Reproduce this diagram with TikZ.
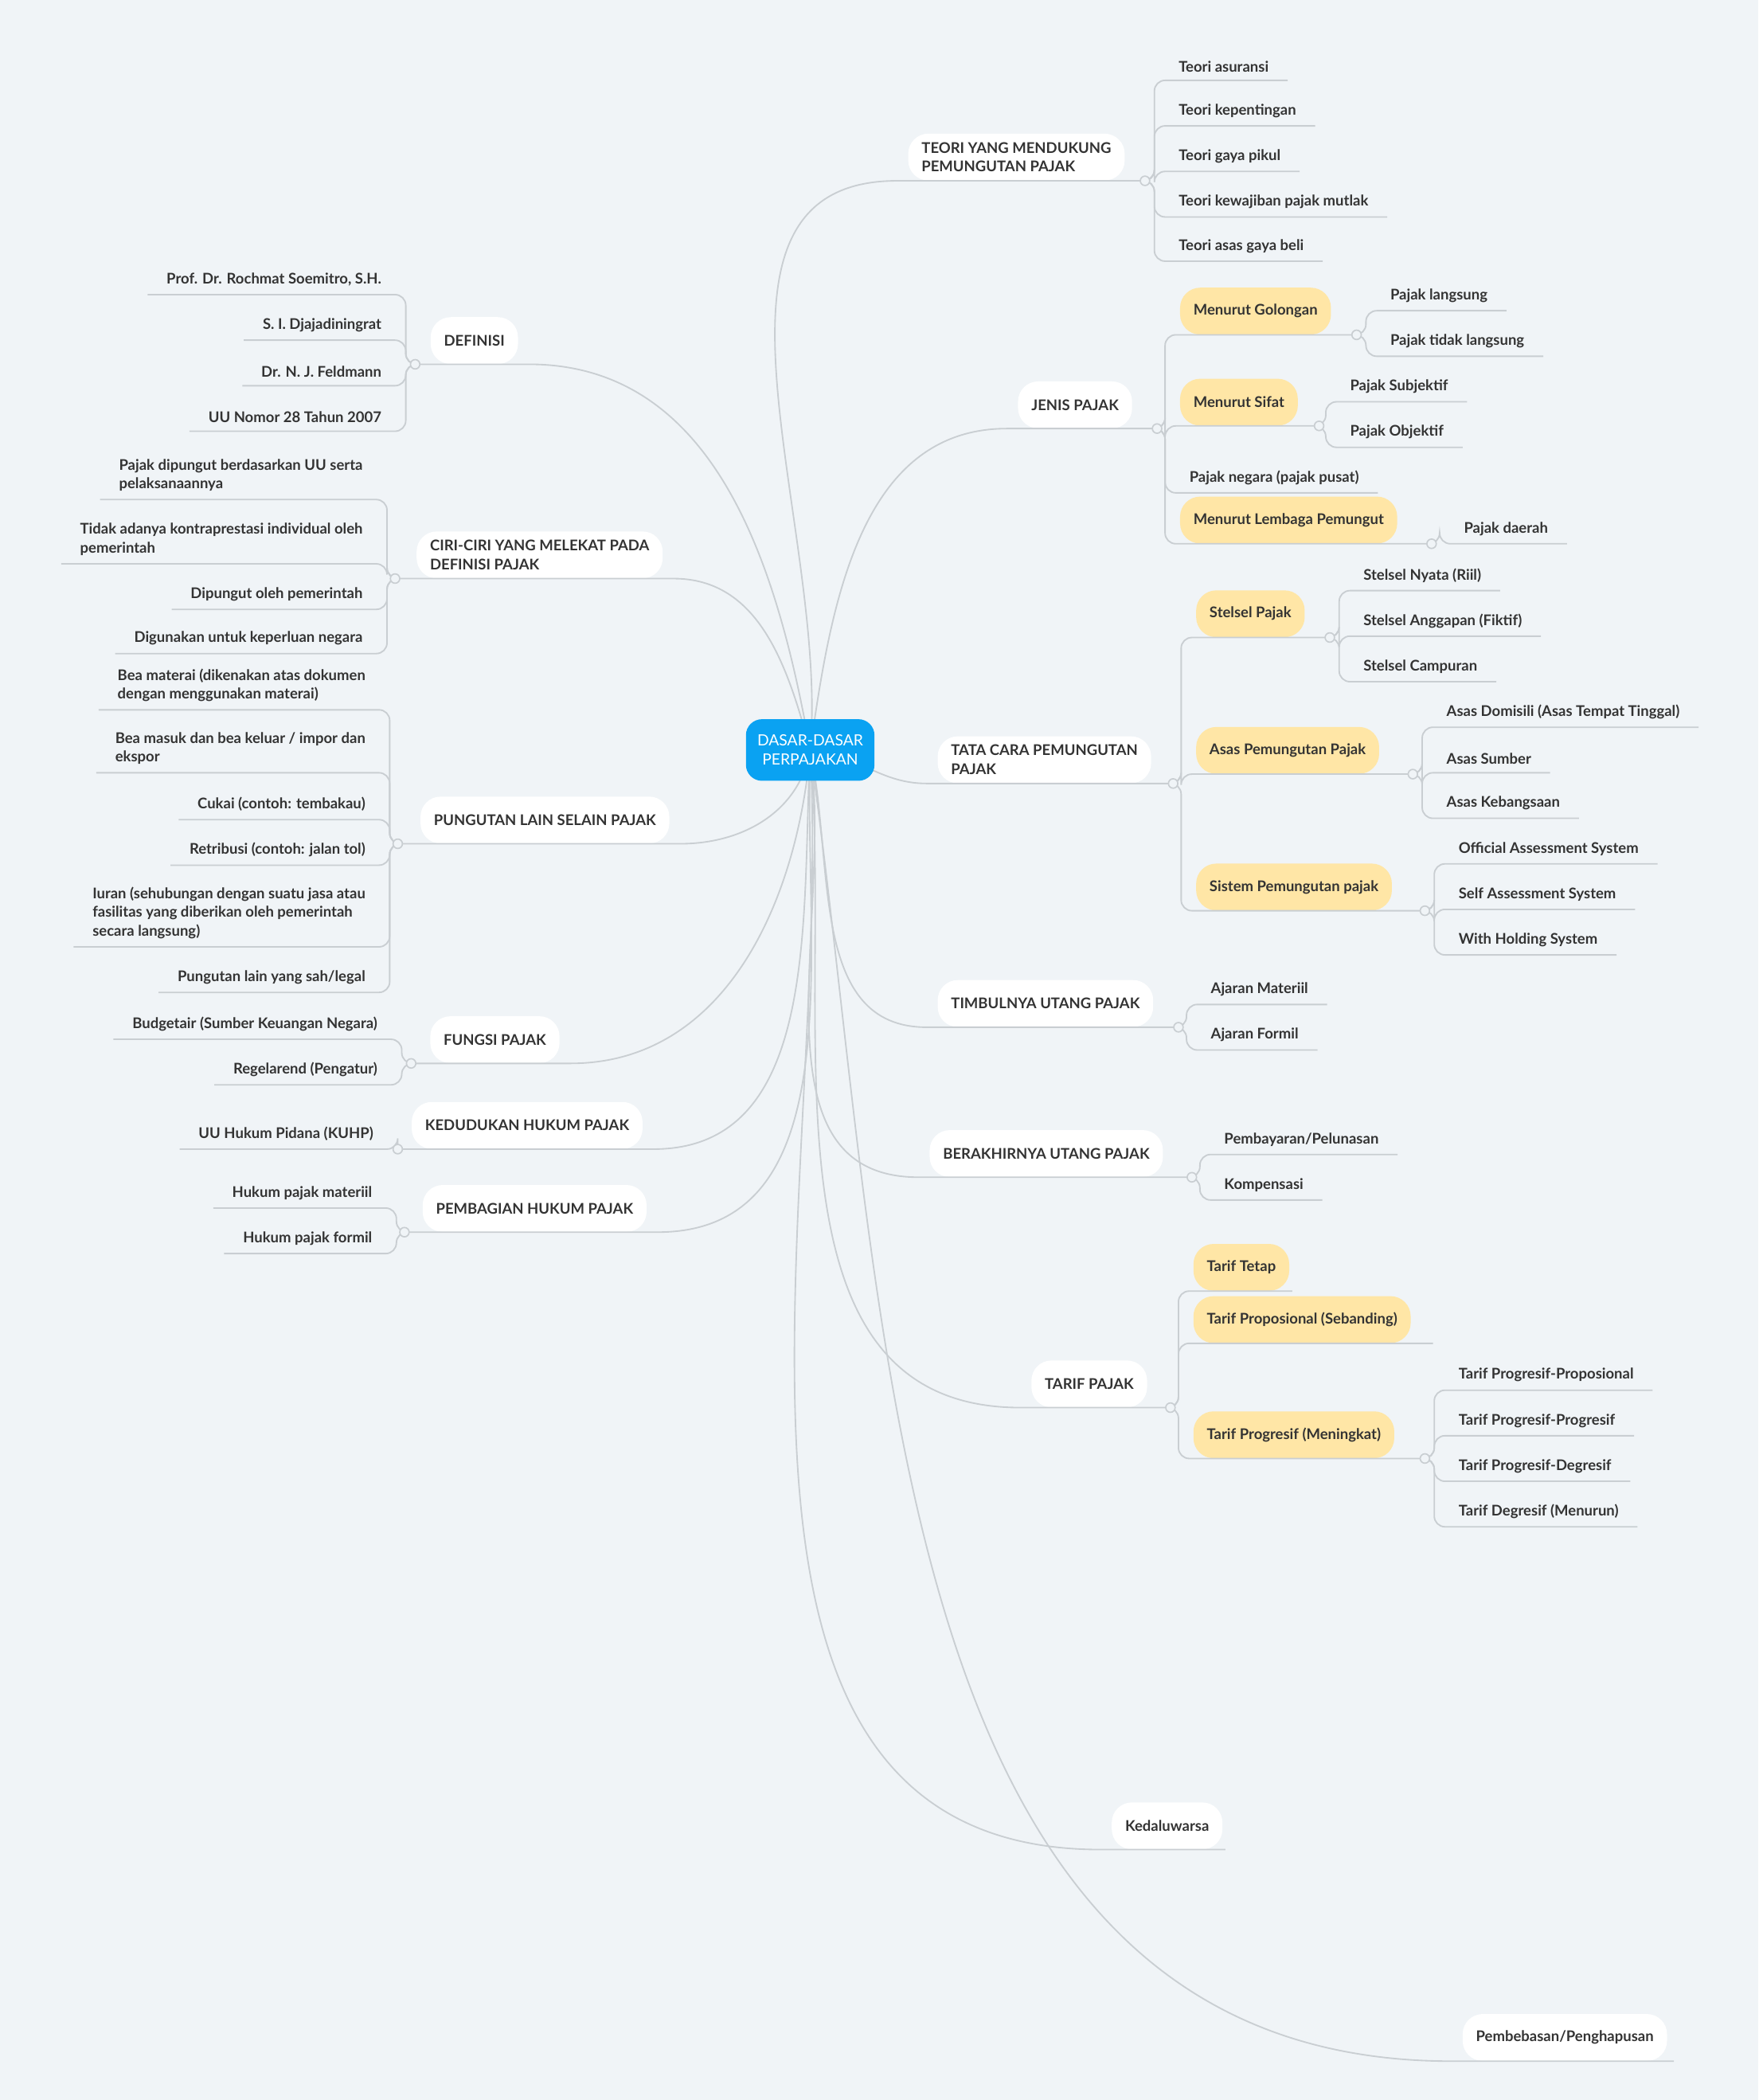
\documentclass[tikz,border=0pt]{standalone}
\usepackage{fontspec}
\setmainfont{Lato}
\definecolor{bgc}{HTML}{F0F4F7}
\definecolor{linec}{HTML}{C9CED2}
\definecolor{ybg}{HTML}{FFE6A6}
\definecolor{blu}{HTML}{0AA2F2}
\definecolor{txt}{HTML}{333333}
\tikzset{
 conn/.style={draw=linec,line width=1.1pt,rounded corners=8pt},
 topic/.style={fill=white,rounded corners=15pt,inner xsep=10pt,minimum height=35pt,align=left,font=\bfseries\fontsize{11}{14}\selectfont,text=txt},
 ypill/.style={topic,fill=ybg},
 leaf/.style={inner xsep=14pt,inner ysep=6pt,align=left,font=\bfseries\fontsize{11}{14}\selectfont,text=txt},
 junc/.style={circle,draw=linec,fill=bgc,line width=1pt,inner sep=0pt,minimum size=7pt},
}
\newcommand\rleaf[5]{\node[leaf,anchor=south west] (#1) at (#3+4,#4) {#5};
 \draw[conn] (#2) -| (#3,#4) -- (#1.south east);}
\newcommand\lleaf[5]{\node[leaf,anchor=south east] (#1) at (#3-4,#4) {#5};
 \draw[conn] (#2) -| (#3,#4) -- (#1.south west);}
\newcommand\rsub[6]{\node[ypill,anchor=south west] (#1) at (#3+11,#4) {#5};
 \coordinate (#1J) at (#6,#4);
 \draw[conn] (#2) -| (#3,#4) -- (#1J);}
\newcommand\rtopic[6]{\node[topic,anchor=south west] (#1) at (#2,#3) {#4};
 \coordinate (#1J) at (#6,#3);
 \draw[conn,rounded corners=0pt] (C) to[out=#5,in=180] ($(#1.south west)+(-8,0)$) -- (#1J);}
\newcommand\ltopic[6]{\node[topic,anchor=south east] (#1) at (#2,#3) {#4};
 \coordinate (#1J) at (#6,#3);
 \draw[conn,rounded corners=0pt] (C) to[out=#5,in=0] ($(#1.south east)+(8,0)$) -- (#1J);}
\newcommand\jn[1]{\node[junc] at (#1) {};}
\usetikzlibrary{calc}
\begin{document}
\begin{tikzpicture}[x=1pt,y=-1pt]
\fill[bgc] (0,0) rectangle (1313,1568);
\useasboundingbox (0,0) rectangle (1313,1568);
\coordinate (C) at (605,560);
% right
\rtopic{teori}{678}{135}{TEORI YANG MENDUKUNG\\PEMUNGUTAN PAJAK}{85}{855}
\rleaf{t1}{teoriJ}{862}{60}{Teori asuransi}
\rleaf{t2}{teoriJ}{862}{94}{Teori kepentingan}
\rleaf{t3}{teoriJ}{862}{128}{Teori gaya pikul}
\rleaf{t4}{teoriJ}{862}{162}{Teori kewajiban pajak mutlak}
\rleaf{t5}{teoriJ}{862}{195}{Teori asas gaya beli}
\jn{teoriJ}
\rtopic{jenis}{760}{320}{JENIS PAJAK}{82}{864}
\rsub{gol}{jenisJ}{870}{250}{Menurut Golongan}{1013}
\rleaf{pl}{golJ}{1020}{232}{Pajak langsung}
\rleaf{ptl}{golJ}{1020}{266}{Pajak tidak langsung}
\jn{golJ}
\rsub{sif}{jenisJ}{870}{318}{Menurut Sifat}{985}
\rleaf{ps}{sifJ}{990}{300}{Pajak Subjektif}
\rleaf{po}{sifJ}{990}{334}{Pajak Objektif}
\jn{sifJ}
\rleaf{pn}{jenisJ}{870}{368}{Pajak negara (pajak pusat)}
\rsub{lem}{jenisJ}{870}{406}{Menurut Lembaga Pemungut}{1069}
\rleaf{pd}{lemJ}{1075}{406}{Pajak daerah}
\jn{lemJ}
\jn{jenisJ}
\rtopic{tata}{700}{585}{TATA CARA PEMUNGUTAN\\PAJAK}{-5}{876}
\rsub{stel}{tataJ}{882}{476}{Stelsel Pajak}{993}
\rleaf{s1}{stelJ}{1000}{441}{Stelsel Nyata (Riil)}
\rleaf{s2}{stelJ}{1000}{475}{Stelsel Anggapan (Fiktif)}
\rleaf{s3}{stelJ}{1000}{509}{Stelsel Campuran}
\jn{stelJ}
\rsub{asas}{tataJ}{882}{578}{Asas Pemungutan Pajak}{1055}
\rleaf{a1}{asasJ}{1062}{543}{Asas Domisili (Asas Tempat Tinggal)}
\rleaf{a2}{asasJ}{1062}{577}{Asas Sumber}
\rleaf{a3}{asasJ}{1062}{611}{Asas Kebangsaan}
\jn{asasJ}
\rsub{sis}{tataJ}{882}{680}{Sistem Pemungutan pajak}{1064}
\rleaf{y1}{sisJ}{1071}{645}{Official Assessment System}
\rleaf{y2}{sisJ}{1071}{679}{Self Assessment System}
\rleaf{y3}{sisJ}{1071}{713}{With Holding System}
\jn{sisJ}
\jn{tataJ}
\rtopic{timb}{700}{767}{TIMBULNYA UTANG PAJAK}{-78}{880}
\rleaf{u1}{timbJ}{886}{750}{Ajaran Materiil}
\rleaf{u2}{timbJ}{886}{784}{Ajaran Formil}
\jn{timbJ}
\rtopic{akhir}{694}{879}{BERAKHIRNYA UTANG PAJAK}{-82}{890}
\rleaf{b1}{akhirJ}{896}{862}{Pembayaran/Pelunasan}
\rleaf{b2}{akhirJ}{896}{896}{Kompensasi}
\jn{akhirJ}
\rtopic{tarif}{770}{1051}{TARIF PAJAK}{-85}{874}
\rsub{tetap}{tarifJ}{880}{964}{Tarif Tetap}{965}
\rsub{propo}{tarifJ}{880}{1003}{Tarif Proposional (Sebanding)}{1070}
\rsub{prog}{tarifJ}{880}{1089}{Tarif Progresif (Meningkat)}{1064}
\rleaf{g1}{progJ}{1071}{1038}{Tarif Progresif-Proposional}
\rleaf{g2}{progJ}{1071}{1072}{Tarif Progresif-Progresif}
\rleaf{g3}{progJ}{1071}{1106}{Tarif Progresif-Degresif}
\rleaf{g4}{progJ}{1071}{1140}{Tarif Degresif (Menurun)}
\jn{progJ}
\jn{tarifJ}
\rtopic{ked2}{830}{1381}{Kedaluwarsa}{-87}{915}
\rtopic{beb}{1092}{1539}{Pembebasan/Penghapusan}{-82}{1250}
% left
\ltopic{def}{387}{272}{DEFINISI}{100}{310}
\lleaf{d1}{defJ}{303}{220}{Prof. Dr. Rochmat Soemitro, S.H.}
\lleaf{d2}{defJ}{303}{254}{S. I. Djajadiningrat}
\lleaf{d3}{defJ}{303}{288}{Dr. N. J. Feldmann}
\lleaf{d4}{defJ}{303}{322}{UU Nomor 28 Tahun 2007}
\jn{defJ}
\ltopic{ciri}{495}{432}{CIRI-CIRI YANG MELEKAT PADA\\DEFINISI PAJAK}{105}{295}
\lleaf{c1}{ciriJ}{289}{373}{Pajak dipungut berdasarkan UU serta\\pelaksanaannya}
\lleaf{c2}{ciriJ}{289}{421}{Tidak adanya kontraprestasi individual oleh\\pemerintah}
\lleaf{c3}{ciriJ}{289}{455}{Dipungut oleh pemerintah}
\lleaf{c4}{ciriJ}{289}{488}{Digunakan untuk keperluan negara}
\jn{ciriJ}
\ltopic{pung}{500}{630}{PUNGUTAN LAIN SELAIN PAJAK}{-100}{297}
\lleaf{p1}{pungJ}{291}{530}{Bea materai (dikenakan atas dokumen\\dengan menggunakan materai)}
\lleaf{p2}{pungJ}{291}{577}{Bea masuk dan bea keluar / impor dan\\ekspor}
\lleaf{p3}{pungJ}{291}{612}{Cukai (contoh: tembakau)}
\lleaf{p4}{pungJ}{291}{646}{Retribusi (contoh: jalan tol)}
\lleaf{p5}{pungJ}{291}{707}{Iuran (sehubungan dengan suatu jasa atau\\fasilitas yang diberikan oleh pemerintah\\secara langsung)}
\lleaf{p6}{pungJ}{291}{741}{Pungutan lain yang sah/legal}
\jn{pungJ}
\ltopic{fungsi}{418}{794}{FUNGSI PAJAK}{-95}{307}
\lleaf{f1}{fungsiJ}{300}{776}{Budgetair (Sumber Keuangan Negara)}
\lleaf{f2}{fungsiJ}{300}{810}{Regelarend (Pengatur)}
\jn{fungsiJ}
\ltopic{kedu}{480}{858}{KEDUDUKAN HUKUM PAJAK}{-93}{297}
\lleaf{k1}{keduJ}{297}{858}{UU Hukum Pidana (KUHP)}
\jn{keduJ}
\ltopic{pemb}{483}{920}{PEMBAGIAN HUKUM PAJAK}{-92}{302}
\lleaf{h1}{pembJ}{296}{902}{Hukum pajak materiil}
\lleaf{h2}{pembJ}{296}{936}{Hukum pajak formil}
\jn{pembJ}
\node[fill=blu,rounded corners=12pt,text=white,align=center,minimum width=96pt,minimum height=46pt,font=\fontsize{11.5}{14}\selectfont] (center) at (C) {DASAR-DASAR\\PERPAJAKAN};
\end{tikzpicture}
\end{document}
